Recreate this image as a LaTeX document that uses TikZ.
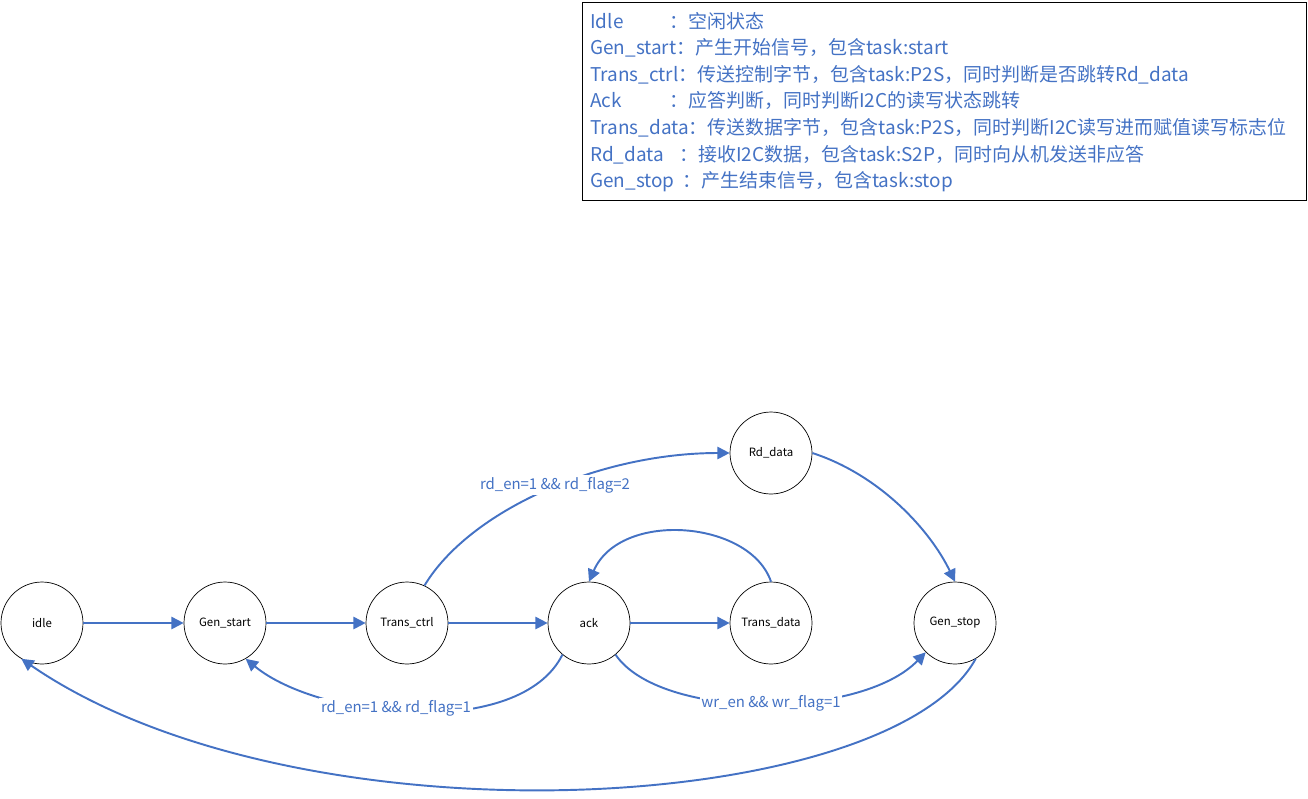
\documentclass[tikz,border=0pt]{standalone}
\usepackage{fontspec}
\setmainfont{Noto Sans CJK SC}
\usetikzlibrary{arrows.meta}
\definecolor{eblue}{HTML}{4472C4}
\begin{document}
\begin{tikzpicture}[x=0.02cm,y=-0.02cm,
  st/.style={circle,draw=black,thin,minimum size=1.64cm,inner sep=0pt,font=\fontsize{6.5}{8}\selectfont},
  tr/.style={draw=eblue,line width=1.1pt,-{Triangle[length=7pt,width=7pt]}},
  lb/.style={fill=white,text=eblue,font=\fontsize{8.5}{10}\selectfont,inner sep=1pt}]
\useasboundingbox (0,0) rectangle (1308,798);
\node[draw=black,thin,minimum width=14.48cm,minimum height=3.96cm,anchor=north west] (legend) at (582,2) {};
\node[anchor=north west,text=eblue,font=\fontsize{10.8}{15.1}\selectfont,align=left,inner sep=0pt] (ltext) at (590,12) {%
Idle\hspace{2.4em}：空闲状态\\
Gen\_start：产生开始信号，包含task:start\\
Trans\_ctrl：传送控制字节，包含task:P2S，同时判断是否跳转Rd\_data\\
Ack\hspace{2.5em}：应答判断，同时判断I2C的读写状态跳转\\
Trans\_data：传送数据字节，包含task:P2S，同时判断I2C读写进而赋值读写标志位\\
Rd\_data\hspace{0.8em}：接收I2C数据，包含task:S2P，同时向从机发送非应答\\
Gen\_stop\hspace{0.4em}：产生结束信号，包含task:stop};
\node[st] (idle) at (42,623) {idle};
\node[st] (gs) at (225,623) {Gen\_start};
\node[st] (tc) at (407,623) {Trans\_ctrl};
\node[st] (ack) at (589,623) {ack};
\node[st] (td) at (771,623) {Trans\_data};
\node[st] (gp) at (955,623) {Gen\_stop};
\node[st] (rd) at (771,453) {Rd\_data};
\draw[tr] (idle) -- (gs);
\draw[tr] (gs) -- (tc);
\draw[tr] (tc) -- (ack);
\draw[tr] (ack) -- (td);
\draw[tr] (tc.65) .. controls (470,510) and (600,453) .. (rd.west);
\node[lb] (l1) at (555,485) {rd\_en=1 \&\& rd\_flag=2};
\draw[tr] (rd.east) .. controls (880,475) and (930,530) .. (gp.north);
\draw[tr] (td.north) .. controls (750,520) and (620,510) .. (ack.north);
\draw[tr] (ack.230) .. controls (520,740) and (320,720) .. (gs.300);
\node[lb] (l2) at (396,708) {rd\_en=1 \&\& rd\_flag=1};
\draw[tr] (ack.310) .. controls (660,720) and (860,720) .. (gp.225);
\node[lb] (l3) at (771,703) {wr\_en \&\& wr\_flag=1};
\draw[tr] (gp.300) .. controls (890,815) and (300,850) .. (idle.240);
\end{tikzpicture}
\end{document}
